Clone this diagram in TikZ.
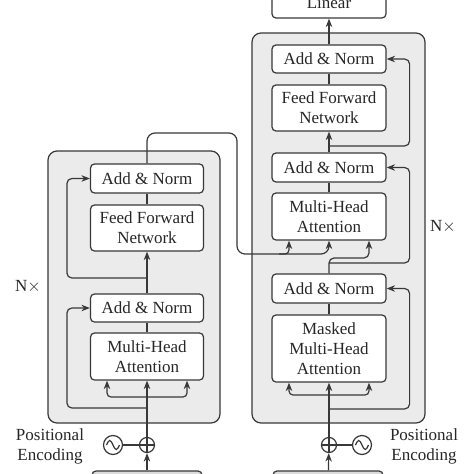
\documentclass[tikz,border=0pt]{standalone}
\usepackage{fontspec}
\setmainfont{Liberation Serif}
\usetikzlibrary{arrows,arrows.meta,shapes,positioning,calc}
\definecolor{layergray}{HTML}{EBEBEB}
\definecolor{linegray}{HTML}{383838}
\definecolor{embgray}{HTML}{DCDCDC}

\begin{document}
\begin{tikzpicture}[x=1pt,y=-1pt,>={Stealth[length=8.5pt,width=6.5pt]},line width=1.2pt,color=linegray,
  every node/.style={font=\fontsize{17}{20}\selectfont,text=black!85},
  layer/.style={draw=linegray,fill=layergray,rounded corners=9pt,inner sep=0pt},
  blk/.style={draw=linegray,fill=white,rounded corners=4pt,align=center,inner sep=0pt},
  sumnode/.style={draw=linegray,circle,minimum size=15pt,inner sep=0pt,fill=white},
  wavenode/.style={draw=linegray,circle,minimum size=19pt,inner sep=0pt}]
\clip (0,0) rectangle (474,474);
% stacks
\node[layer,minimum width=172pt,minimum height=272pt] (enc) at (134,287) {};
\node[layer,minimum width=173pt,minimum height=390pt] (dec) at (338.5,228) {};
% encoder
\node[blk,minimum width=113pt,minimum height=29pt] (ea2) at (147,178.5) {Add \& Norm};
\node[blk,minimum width=113pt,minimum height=46pt] (eff) at (147,228) {Feed Forward\\Network};
\node[blk,minimum width=113pt,minimum height=28pt] (ea1) at (147,308) {Add \& Norm};
\node[blk,minimum width=113pt,minimum height=47pt] (emha) at (147,356.5) {Multi-Head\\Attention};
\node[blk,fill=embgray,minimum width=110pt,minimum height=30pt] (eemb) at (147,486) {};
\node[sumnode] (eplus) at (147,445) {};
\node[wavenode] (ewave) at (113,445) {};
\node[align=center] (epos) at (50,446) {Positional\\Encoding};
\node (enx) at (28,287) {N$\times$};
% decoder
\node[blk,minimum width=114pt,minimum height=31pt] (lin) at (329,2.5) {Linear};
\node[blk,minimum width=114pt,minimum height=28pt] (da3) at (329,59) {Add \& Norm};
\node[blk,minimum width=114pt,minimum height=46pt] (dff) at (329,108) {Feed Forward\\Network};
\node[blk,minimum width=114pt,minimum height=29pt] (da2) at (329,167.5) {Add \& Norm};
\node[blk,minimum width=114pt,minimum height=47pt] (dmha) at (329,216.5) {Multi-Head\\Attention};
\node[blk,minimum width=114pt,minimum height=29pt] (da1) at (329,288.5) {Add \& Norm};
\node[blk,minimum width=114pt,minimum height=67pt] (dmmha) at (329,348.5) {Masked\\Multi-Head\\Attention};
\node[blk,fill=embgray,minimum width=110pt,minimum height=30pt] (demb) at (328,486) {};
\node[sumnode] (dplus) at (329,445) {};
\node[wavenode] (dwave) at (362,445) {};
\node[align=center] (dpos) at (424,446) {Positional\\Encoding};
\node (dnx) at (443,227) {N$\times$};
% branch points
\coordinate (eqkv) at (147,397);
\coordinate (eres1) at (147,408);
\coordinate (eres2) at (147,278);
\coordinate (etop) at (237,133);
\coordinate (dkv) at (329,254);
\coordinate (dq) at (369,258);
\coordinate (dqkv) at (329,395);
\coordinate (dres1) at (329,409);
\coordinate (dres2) at (329,263);
\coordinate (dres3) at (329,146);
% positional encoding
\foreach \p/\w in {eplus/ewave,dplus/dwave}{
  \draw (\p.north) -- (\p.south) (\p.west) -- (\p.east);
  \draw (\w.center) ++(-6.5,0) sin ++(3.25,-4.5) cos ++(3.25,4.5) sin ++(3.25,4.5) cos ++(3.25,-4.5);
  \draw (\w) -- (\p);
}
% encoder flow
\draw[->] (eemb) -- (eplus);
\draw[->] (eplus) -- (emha);
\draw[->,rounded corners=4pt] (eqkv) -| ([xshift=-40pt]emha.south);
\draw[->,rounded corners=4pt] (eqkv) -| ([xshift=40pt]emha.south);
\draw[->,rounded corners=5pt] (eres1) -| ([xshift=-23pt]ea1.west) -- (ea1.west);
\draw (emha) -- (ea1);
\draw[->] (ea1) -- (eff);
\draw[->,rounded corners=5pt] (eres2) -| ([xshift=-23pt]ea2.west) -- (ea2.west);
\draw (eff) -- (ea2);
% encoder output into decoder
\draw[->,rounded corners=8pt] (ea2.north) |- (etop) |- (dkv) -- (dmha.south);
\draw[->,rounded corners=4pt] ([xshift=-50pt]dkv) -| ([xshift=-40pt]dmha.south);
% decoder flow
\draw[->] (demb) -- (dplus);
\draw[->] (dplus) -- (dmmha);
\draw[->,rounded corners=4pt] (dqkv) -| ([xshift=-40pt]dmmha.south);
\draw[->,rounded corners=4pt] (dqkv) -| ([xshift=40pt]dmmha.south);
\draw[->,rounded corners=5pt] (dres1) -| ([xshift=23pt]da1.east) -- (da1.east);
\draw (dmmha) -- (da1);
\draw[->,rounded corners=5pt] (da1.north) |- (dq) -- ([xshift=40pt]dmha.south);
\draw[->,rounded corners=5pt] (dres2) -| ([xshift=23pt]da2.east) -- (da2.east);
\draw (dmha) -- (da2);
\draw[->] (da2) -- (dff);
\draw[->,rounded corners=5pt] (dres3) -| ([xshift=23pt]da3.east) -- (da3.east);
\draw (dff) -- (da3);
\draw[->] (da3) -- (lin);
\end{tikzpicture}
\end{document}
